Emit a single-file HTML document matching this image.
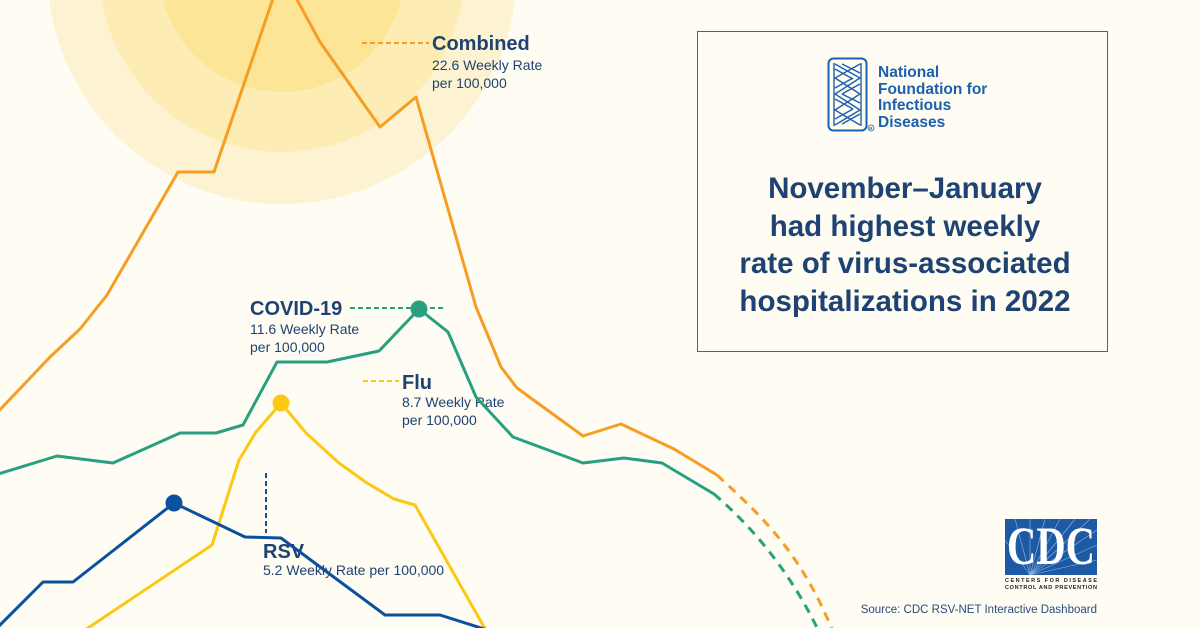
<!DOCTYPE html>
<html><head><meta charset="utf-8"><style>
html,body{margin:0;padding:0;background:#fefcf3;}
svg{display:block;}
</style></head><body>
<svg width="1200" height="628" viewBox="0 0 1200 628" xmlns="http://www.w3.org/2000/svg" font-family="'Liberation Sans', Arial, sans-serif">
<rect width="1200" height="628" fill="#fefcf3"/>
<!-- sun circles -->
<circle cx="282" cy="-31" r="235" fill="#fdf3d2"/>
<circle cx="282" cy="-31" r="183" fill="#fdecb3"/>
<circle cx="282" cy="-31" r="123" fill="#fde597"/>

<!-- label texts -->
<g fill="#1e4272">
<text x="432" y="50" font-size="20" font-weight="bold">Combined</text>
<text x="432" y="70" font-size="14">22.6 Weekly Rate</text>
<text x="432" y="88" font-size="14">per 100,000</text>

<text x="250" y="315" font-size="20" font-weight="bold">COVID-19</text>
<text x="250" y="334" font-size="14">11.6 Weekly Rate</text>
<text x="250" y="352" font-size="14">per 100,000</text>

<text x="402" y="389" font-size="20" font-weight="bold">Flu</text>
<text x="402" y="407" font-size="14">8.7 Weekly Rate</text>
<text x="402" y="425" font-size="14">per 100,000</text>

<text x="263" y="558" font-size="20" font-weight="bold">RSV</text>
<text x="263" y="575" font-size="14">5.2 Weekly Rate per 100,000</text>
</g>

<!-- leader dashed lines -->
<line x1="362" y1="43" x2="429" y2="43" stroke="#f79d24" stroke-width="2" stroke-dasharray="5,3"/>
<line x1="350" y1="308" x2="444" y2="308" stroke="#27a07f" stroke-width="2" stroke-dasharray="5,3"/>
<line x1="363" y1="381" x2="399" y2="381" stroke="#fdc814" stroke-width="2" stroke-dasharray="5,3"/>
<line x1="266" y1="473" x2="266" y2="533" stroke="#0b4f9f" stroke-width="2" stroke-dasharray="5,3"/>

<!-- series -->
<g fill="none" stroke-width="3" stroke-linejoin="round" stroke-linecap="butt">
<path d="M-5,415 L50,357 L80,329 L107,295 L178,172 L214,172 L282,-28 L320,42 L380,127 L416,97 L476,307 L501,367 L517,388 L583,436 L621,424 L674,449 L717,475" stroke="#f79d24"/>
<path d="M717,475 C760,515 800,550 834,634" stroke="#f79d24" stroke-dasharray="9,7"/>
<path d="M-5,475 L57,456 L113,463 L180,433 L216,433 L243,425 L277,362 L327,362 L379,351 L419,309 L448,332 L476,397 L513,437 L583,463 L624,458 L662,463 L714,494" stroke="#27a07f"/>
<path d="M714,494 C750,525 790,570 820,634" stroke="#27a07f" stroke-dasharray="9,7"/>
<path d="M79,634 L212,545 L239,460 L256,432 L281,403 L306,433 L339,463 L367,483 L394,499 L415,505 L488,634" stroke="#fdc814"/>
<path d="M-5,630 L43,582 L73,582 L174,503 L245,537 L281,538 L385,615 L440,615 L500,634" stroke="#0b4f9f"/>
</g>
<circle cx="419" cy="309" r="8.5" fill="#27a07f"/>
<circle cx="281" cy="403" r="8.5" fill="#fdc814"/>
<circle cx="174" cy="503" r="8.5" fill="#0b4f9f"/>

<!-- title box -->
<rect x="697.5" y="31.5" width="410" height="320" fill="none" stroke="#4a6488" stroke-width="1"/>
<g fill="#1e4272" font-size="29.5" font-weight="bold" text-anchor="middle">
<text x="905" y="198">November–January</text>
<text x="905" y="236">had highest weekly</text>
<text x="905" y="273">rate of virus-associated</text>
<text x="905" y="311">hospitalizations in 2022</text>
</g>

<!-- NFID logo -->
<g stroke="#1c5fae" fill="none">
<rect x="828.5" y="58.5" width="38" height="72" rx="5" stroke-width="2"/>
<g stroke-width="1.4">
<path d="M835,64 L860,78 L835,94 L860,110 L835,125"/>
<path d="M860,64 L835,78 L860,94 L835,110 L860,125"/>
<path d="M835,69 L853,79 M842,64 L860,73 M835,99 L853,109 M842,94 L860,103"/>
<path d="M860,84 L842,94 M853,78 L835,88 M860,114 L842,124 M853,109 L835,119"/>
<path d="M834,63 L834,126 M861,63 L861,126"/>
</g>
</g>
<circle cx="871" cy="128" r="3" fill="none" stroke="#1c5fae" stroke-width="0.8"/>
<text x="869.3" y="129.8" font-size="4.5" fill="#1c5fae" font-weight="bold">R</text>
<g fill="#1c5fae" font-size="15.5" font-weight="bold">
<text x="878" y="77">National</text>
<text x="878" y="94">Foundation for</text>
<text x="878" y="110">Infectious</text>
<text x="878" y="127">Diseases</text>
</g>

<!-- CDC logo -->
<rect x="1005" y="519" width="92" height="56" fill="#1c5aa6"/>
<g stroke="#ffffff" stroke-width="0.6" opacity="0.55">
<line x1="1030" y1="575" x2="1005" y2="540"/>
<line x1="1030" y1="575" x2="1015" y2="519"/>
<line x1="1030" y1="575" x2="1030" y2="519"/>
<line x1="1030" y1="575" x2="1045" y2="519"/>
<line x1="1030" y1="575" x2="1060" y2="519"/>
<line x1="1030" y1="575" x2="1075" y2="519"/>
<line x1="1030" y1="575" x2="1090" y2="519"/>
<line x1="1030" y1="575" x2="1097" y2="530"/>
<line x1="1030" y1="575" x2="1097" y2="545"/>
<line x1="1030" y1="575" x2="1097" y2="560"/>
</g>
<text x="1007" y="564" font-family="'Liberation Serif', serif" font-size="54" font-weight="bold" fill="#ffffff" textLength="88" lengthAdjust="spacingAndGlyphs">CDC</text>
<g fill="#222" font-size="5.5" font-weight="bold">
<text x="1005" y="582" textLength="92" lengthAdjust="spacing">CENTERS FOR DISEASE</text>
<text x="1005" y="589" textLength="92" lengthAdjust="spacing">CONTROL AND PREVENTION</text>
</g>
<text x="1097" y="613" font-size="11.5" fill="#2a4c7e" text-anchor="end">Source: CDC RSV-NET Interactive Dashboard</text>
</svg>
</body></html>
